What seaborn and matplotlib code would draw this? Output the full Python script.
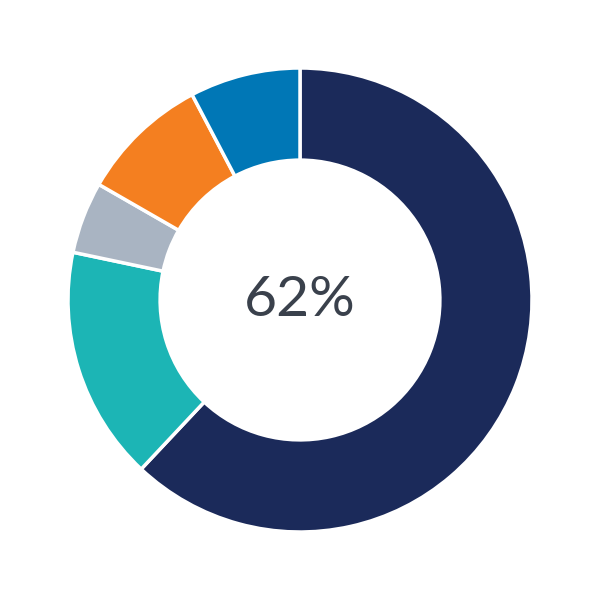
import matplotlib
matplotlib.use("Agg")
import matplotlib.pyplot as plt
import seaborn as sns

categories = ["Navy", "Teal", "Gray", "Orange", "Blue"]
values = [62, 16.3, 5, 9, 7.7]
colors = ["#1b2a5a", "#1cb5b5", "#a9b4c2", "#f47f20", "#0077b6"]
center_label = "62%"

sns.set_theme(style="white")
plt.rcParams['font.family'] = ['Lato', 'DejaVu Sans']

fig = plt.figure(figsize=(6, 6), dpi=100)
ax = fig.add_axes([0, 0, 1, 1])
palette = sns.color_palette(colors)
ax.pie(values, colors=palette, startangle=90, counterclock=False, radius=1.0,
       wedgeprops=dict(width=0.397, edgecolor="white", linewidth=2.5))
ax.text(0, 0, center_label, ha="center", va="center", fontsize=41,
        fontweight="normal", color="#3a414c")
lim = 300 / 232
ax.set_xlim(-lim, lim)
ax.set_ylim(-lim, lim)
ax.set_aspect("equal")
ax.axis("off")
fig.savefig("out.png", dpi=100, facecolor="white")
